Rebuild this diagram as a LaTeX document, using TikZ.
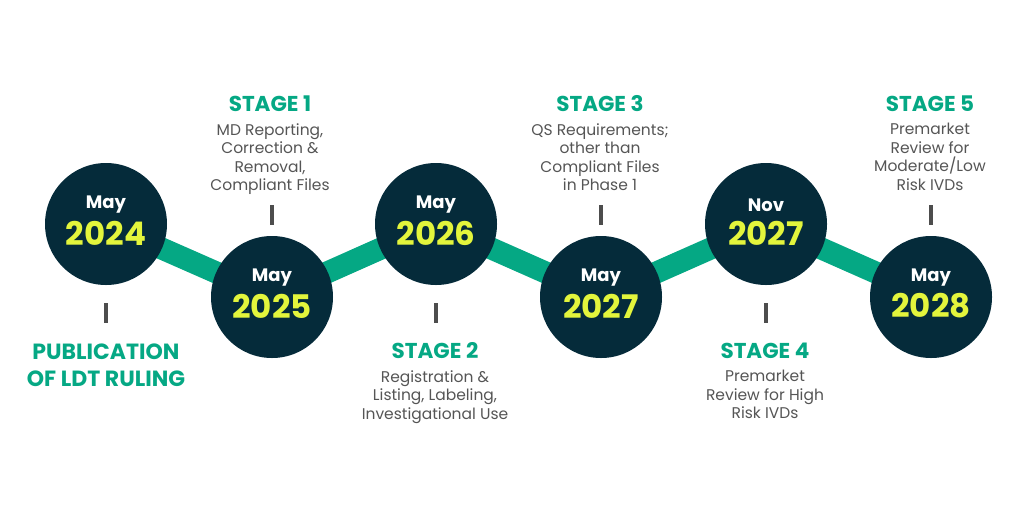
\documentclass[tikz,border=0pt]{standalone}
\usepackage{fontspec}
\setmainfont{Poppins}
\usetikzlibrary{positioning,calc,backgrounds}

\definecolor{navy}{HTML}{052B3A}
\definecolor{leaf}{HTML}{05A884}
\definecolor{lime}{HTML}{E3F53C}
\definecolor{ink}{HTML}{555555}
\definecolor{tickgray}{HTML}{4D4D4D}

\begin{document}
\begin{tikzpicture}[
  x=1pt, y=-1pt,
  date/.style={circle, fill=navy, minimum size=122pt, inner sep=0pt},
  month/.style={text=white, font=\fontsize{18}{20}\selectfont\bfseries, inner sep=0pt},
  year/.style={text=lime, font=\fontsize{32.5}{34}\selectfont\bfseries, inner sep=0pt},
  title/.style={text=leaf, font=\fontsize{21.5}{27}\selectfont\bfseries, align=center, inner sep=0pt},
  body/.style={text=ink, font=\fontsize{15.5}{18.5}\selectfont, align=center, inner sep=0pt},
  link/.style={draw=leaf, line width=22pt},
  tick/.style={draw=tickgray, line width=4.5pt}
]
  \useasboundingbox (0,0) rectangle (1024,512);

  % dates
  \node[date] (d24) at (106, 224) {};
  \node[date] (d25) at (272, 297) {};
  \node[date] (d26) at (436, 224) {};
  \node[date] (d27) at (601, 297) {};
  \node[date] (n27) at (766, 224) {};
  \node[date] (d28) at (931, 297) {};

  \node[month] (m24) at ($(d24)+(0,-19)$) {May};
  \node[year]  (y24) at ($(d24)+(0,9)$)   {2024};
  \node[month] (m25) at ($(d25)+(0,-19)$) {May};
  \node[year]  (y25) at ($(d25)+(0,9)$)   {2025};
  \node[month] (m26) at ($(d26)+(0,-19)$) {May};
  \node[year]  (y26) at ($(d26)+(0,9)$)   {2026};
  \node[month] (m27) at ($(d27)+(0,-19)$) {May};
  \node[year]  (y27) at ($(d27)+(0,9)$)   {2027};
  \node[month] (mn27) at ($(n27)+(0,-19)$) {Nov};
  \node[year]  (yn27) at ($(n27)+(0,9)$)   {2027};
  \node[month] (m28) at ($(d28)+(0,-19)$) {May};
  \node[year]  (y28) at ($(d28)+(0,9)$)   {2028};

  \begin{scope}[on background layer]
    \draw[link] (d24.center) -- (d25.center) -- (d26.center)
      -- (d27.center) -- (n27.center) -- (d28.center);
  \end{scope}

  % ticks
  \draw[tick] ($(d24.south)+(0,18)$) -- ++(0,20);
  \draw[tick] ($(d25.north)+(0,-11)$) -- ++(0,-20);
  \draw[tick] ($(d26.south)+(0,18)$) -- ++(0,20);
  \draw[tick] ($(d27.north)+(0,-11)$) -- ++(0,-20);
  \draw[tick] ($(n27.south)+(0,18)$) -- ++(0,20);
  \draw[tick] ($(d28.north)+(0,-11)$) -- ++(0,-20);

  % labels
  \node[title, font=\fontsize{22}{27}\selectfont\bfseries] (pub) at (106, 365)
    {PUBLICATION\\OF LDT RULING};

  \node[title] (st1) at (270, 104) {STAGE 1};
  \node[body, below=11pt of st1] (tx1)
    {MD Reporting,\\Correction \&\\Removal,\\Compliant Files};

  \node[title] (st2) at (435, 351) {STAGE 2};
  \node[body, below=11pt of st2] (tx2)
    {Registration \&\\Listing, Labeling,\\Investigational Use};

  \node[title] (st3) at (600, 104) {STAGE 3};
  \node[body, below=11pt of st3] (tx3)
    {QS Requirements;\\other than\\Compliant Files\\in Phase 1};

  \node[title] (st4) at (765, 351) {STAGE 4};
  \node[body, below=11pt of st4] (tx4)
    {Premarket\\Review for High\\Risk IVDs};

  \node[title] (st5) at (930, 104) {STAGE 5};
  \node[body, below=11pt of st5] (tx5)
    {Premarket\\Review for\\Moderate/Low\\Risk IVDs};
\end{tikzpicture}
\end{document}
